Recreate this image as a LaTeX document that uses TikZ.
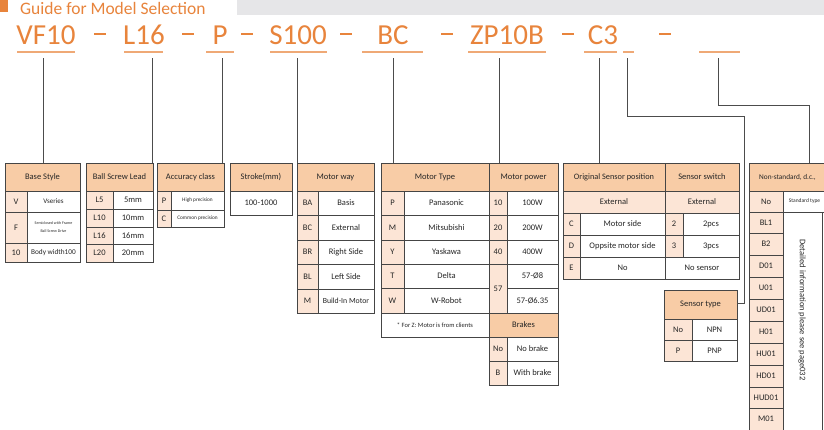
\documentclass[tikz,border=0pt]{standalone}
\usepackage{fontspec}
\setmainfont{Carlito}
\usetikzlibrary{calc}
\definecolor{org}{HTML}{E8843C}
\definecolor{hdr}{HTML}{F8CCA6}
\definecolor{lt}{HTML}{FCE5D6}
\definecolor{bd}{HTML}{454545}
\definecolor{gbar}{HTML}{E6E6E8}
\newcommand\bx[5][\fontsize{8.5}{9}\selectfont]{%
  \draw[bd,line width=0.9pt,fill=#4] (#2) rectangle (#3);
  \node[text=black!85,font=#1,align=center,inner sep=0] at ($(#2)!0.5!(#3)$) {#5};}
\tikzset{conn/.style={draw=black!70,line width=0.8pt},
  code/.style={text=org,font=\fontsize{29}{29}\selectfont,anchor=base,inner sep=0},
  dsh/.style={draw=org,line width=1.3pt},
  ul/.style={draw=org!70,line width=1.1pt}}
\begin{document}
\begin{tikzpicture}[x=1pt,y=-1pt]
\useasboundingbox (0,0) rectangle (824,429);
\fill[white] (0,0) rectangle (824,429);
\fill[gbar] (237,0) rectangle (824,15);
\fill[org] (0,0) rectangle (8,12);
\node[text=org,font=\fontsize{17.5}{18}\selectfont,anchor=base west,inner sep=0] (title) at (20,14) {Guide for Model Selection};
% code line
\node[code] (c1) at (46,44) {VF10};
\node[code] (c2) at (144,44) {L16};
\node[code] (c3) at (220,44) {P};
\node[code] (c4) at (298,44) {S100};
\node[code] (c5) at (393,44) {BC};
\node[code] (c6) at (507,44) {ZP10B};
\node[code] (c7) at (603,44) {C3};
\foreach \x in {100,188,247,346,447,568,665} \draw[dsh] (\x-6,34)--(\x+6,34);
\draw[ul] (17,52)--(75,52); \draw[ul] (124,52)--(163,52); \draw[ul] (206,52)--(234,52);
\draw[ul] (270,52)--(327,52); \draw[ul] (362,52)--(423,52); \draw[ul] (468,52)--(546,52);
\draw[ul] (584,52)--(617,52); \draw[ul] (623,52)--(634,52); \draw[ul] (699,52)--(740,52);
% Base style
\bx{5,163}{80,191}{hdr}{Base Style}
\bx{5,191}{27,212}{lt}{V}\bx[\fontsize{7}{8}\selectfont]{27,191}{80,212}{white}{Vseries}
\bx{5,212}{27,243}{lt}{F}\bx[\fontsize{4}{8}\selectfont]{27,212}{80,243}{white}{Semiclosed with Frame\\Ball Screw Drive}
\bx{5,243}{27,262}{lt}{10}\bx[\fontsize{7.3}{8}\selectfont]{27,243}{80,262}{white}{Body width100}
% Ball screw
\bx{86,163}{153,191}{hdr}{Ball Screw Lead}
\bx{86,191}{113,209}{lt}{L5}\bx{113,191}{153,209}{white}{5mm}
\bx{86,209}{113,227}{lt}{L10}\bx{113,209}{153,227}{white}{10mm}
\bx{86,227}{113,244}{lt}{L16}\bx{113,227}{153,244}{white}{16mm}
\bx{86,244}{113,262}{lt}{L20}\bx{113,244}{153,262}{white}{20mm}
% Accuracy
\bx{157,163}{224,191}{hdr}{Accuracy class}
\bx{157,191}{171,210}{lt}{P}\bx[\fontsize{5.3}{6}\selectfont]{171,191}{224,210}{white}{High precision}
\bx{157,210}{171,227}{lt}{C}\bx[\fontsize{5.3}{6}\selectfont]{171,210}{224,227}{white}{Common precision}
% Stroke
\bx{230,163}{292,191}{hdr}{Stroke(mm)}
\bx{230,191}{292,215}{white}{100-1000}
% Motor way
\bx{297,163}{374,191}{hdr}{Motor way}
\bx{297,191}{318,215}{lt}{BA}\bx{318,191}{374,215}{white}{Basis}
\bx{297,215}{318,240}{lt}{BC}\bx{318,215}{374,240}{white}{External}
\bx{297,240}{318,264}{lt}{BR}\bx{318,240}{374,264}{white}{Right Side}
\bx{297,264}{318,289}{lt}{BL}\bx{318,264}{374,289}{white}{Left Side}
\bx{297,289}{318,313}{lt}{M}\bx[\fontsize{7.8}{8}\selectfont]{318,289}{374,313}{white}{Build-In Motor}
% Motor type
\bx{381,163}{489,191}{hdr}{Motor Type}
\bx{381,191}{404,215}{lt}{P}\bx{404,191}{489,215}{white}{Panasonic}
\bx{381,215}{404,240}{lt}{M}\bx{404,215}{489,240}{white}{Mitsubishi}
\bx{381,240}{404,264}{lt}{Y}\bx{404,240}{489,264}{white}{Yaskawa}
\bx{381,264}{404,288}{lt}{T}\bx{404,264}{489,288}{white}{Delta}
\bx{381,288}{404,313}{lt}{W}\bx{404,288}{489,313}{white}{W-Robot}
\bx[\fontsize{6.5}{7}\selectfont]{381,313}{489,337}{white}{* For Z: Motor is from clients}
% Motor power
\bx{489,163}{558,191}{hdr}{Motor power}
\bx{489,191}{507,215}{lt}{10}\bx{507,191}{558,215}{white}{100W}
\bx{489,215}{507,240}{lt}{20}\bx{507,215}{558,240}{white}{200W}
\bx{489,240}{507,264}{lt}{40}\bx{507,240}{558,264}{white}{400W}
\bx{489,264}{507,313}{lt}{57}\bx{507,264}{558,288}{white}{57-Ø8}\bx{507,288}{558,313}{white}{57-Ø6.35}
\bx{489,313}{558,337}{hdr}{Brakes}
\bx{489,337}{507,361}{lt}{No}\bx{507,337}{558,361}{white}{No brake}
\bx{489,361}{507,385}{lt}{B}\bx{507,361}{558,385}{white}{With brake}
% Original sensor position
\bx[\fontsize{8.3}{9}\selectfont]{563,163}{665,191}{hdr}{Original Sensor position}
\bx{563,191}{665,213}{lt}{External}
\bx{563,213}{580,235}{lt}{C}\bx{580,213}{665,235}{white}{Motor side}
\bx{563,235}{580,257}{lt}{D}\bx{580,235}{665,257}{white}{Oppsite motor side}
\bx{563,257}{580,279}{lt}{E}\bx{580,257}{665,279}{white}{No}
% Sensor switch
\bx{665,163}{739,191}{hdr}{Sensor switch}
\bx{665,191}{739,213}{lt}{External}
\bx{665,213}{683,235}{lt}{2}\bx{683,213}{739,235}{white}{2pcs}
\bx{665,235}{683,257}{lt}{3}\bx{683,235}{739,257}{white}{3pcs}
\bx{665,257}{739,279}{white}{No sensor}
% Sensor type
\bx{664,290}{737,319}{hdr}{Sensor type}
\bx{664,319}{692,340}{lt}{No}\bx{692,319}{737,340}{white}{NPN}
\bx{664,340}{692,361}{lt}{P}\bx{692,340}{737,361}{white}{PNP}
% Non-standard
\bx[\fontsize{7.3}{8}\selectfont]{749,163}{826,191}{hdr}{Non-standard, d.c.,}
\bx{749,191}{783,212}{lt}{No}\bx[\fontsize{5.5}{6}\selectfont]{783,191}{826,212}{white}{Standard type}
\draw[bd,line width=0.9pt] (783,212) rectangle (822,440);
\node[rotate=-90,font=\fontsize{8.5}{9}\selectfont,text=black!85,inner sep=0] (det) at (802,310) {Detailed information please see page032};
\bx{749,212}{783,233}{lt}{BL1}
\bx{749,233}{783,255}{lt}{B2}
\bx{749,255}{783,277}{lt}{D01}
\bx{749,277}{783,299}{lt}{U01}
\bx{749,299}{783,321}{lt}{UD01}
\bx{749,321}{783,343}{lt}{H01}
\bx{749,343}{783,365}{lt}{HU01}
\bx{749,365}{783,387}{lt}{HD01}
\bx{749,387}{783,408}{lt}{HUD01}
\bx{749,408}{783,430}{lt}{M01}
% connectors
\draw[conn] (43,58)--(43,163);
\draw[conn] (152,58)--(152,163);
\draw[conn] (222,58)--(222,163);
\draw[conn] (297,58)--(297,163);
\draw[conn] (393,58)--(393,163);
\draw[conn] (499,58)--(499,163);
\draw[conn] (599,58)--(599,163);
\draw[conn] (627,58)--(627,116)--(744,116)--(744,303)--(737,303);
\draw[conn] (718,58)--(718,105)--(809,105)--(809,163);
\end{tikzpicture}
\end{document}
